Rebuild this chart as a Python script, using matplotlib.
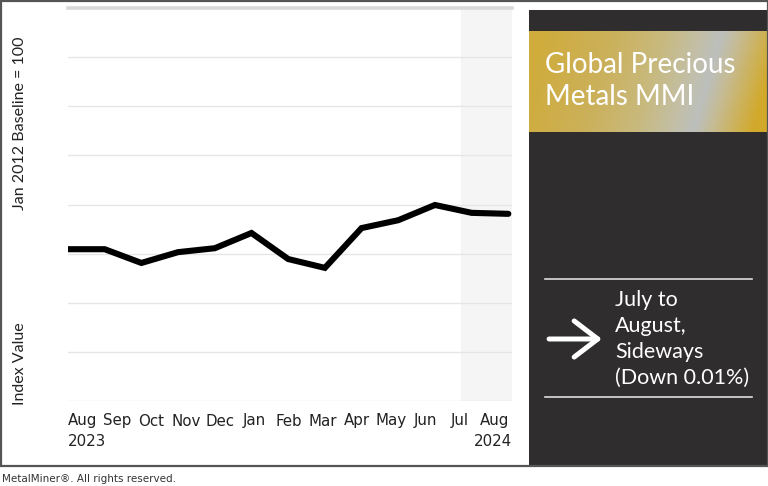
import numpy as np
import matplotlib.pyplot as plt
from matplotlib.patches import Rectangle
from matplotlib.colors import LinearSegmentedColormap
import matplotlib.transforms as mtransforms

# Data (index values, gridlines every 100)
months = ['Aug', 'Sep', 'Oct', 'Nov', 'Dec', 'Jan', 'Feb', 'Mar', 'Apr', 'May', 'Jun', 'Jul', 'Aug']
index_values = [309, 309, 281, 303, 311, 342, 289, 271, 352, 368, 399, 383, 381]
start_year = '2023'
end_year = '2024'
grid_values = [0, 100, 200, 300, 400, 500, 600, 700]
title_text = 'Global Precious\nMetals MMI'
change_text = 'July to\nAugust,\nSideways\n(Down 0.01%)'

plt.rcParams['font.family'] = ['DejaVu Sans']

fig = plt.figure(figsize=(7.68, 4.86), dpi=100)
W, H = 768, 486

def fx(px):
    return px / W

def fy(py):
    return 1 - py / H

# outer frame of the chart
fig.patches.append(Rectangle((fx(1), fy(466)), fx(767), fy(1) - fy(466),
                             transform=fig.transFigure, fill=False,
                             edgecolor='#555555', lw=1.6, zorder=0))

# main line chart
ax = fig.add_axes([fx(68), fy(401), fx(512) - fx(68), fy(8) - fy(401)])
x = np.arange(len(months))
ax.set_xlim(0, 12.1)
ax.set_ylim(0, 800)
ax.axvspan(10.72, 12.1, color='#f5f5f5', zorder=0)
for g in grid_values:
    ax.axhline(g, color='#e6e6e6', lw=1.0, zorder=1)
ax.axhline(800, color='#d9d9d9', lw=2.6, zorder=1, clip_on=False)
ax.plot(x, index_values, color='black', lw=4.4, solid_capstyle='round',
        solid_joinstyle='miter', zorder=3)

for s in ax.spines.values():
    s.set_visible(False)
ax.set_yticks([])
ax.set_xticks(np.linspace(0.41, 11.62, len(months)))
ax.set_xticklabels(months, fontsize=10.8, color='#222222')
ax.tick_params(axis='x', length=0, pad=9)

# year labels under first and last months
trans = mtransforms.blended_transform_factory(ax.transAxes, fig.transFigure)
ax.text(0, fy(441), start_year, transform=trans, ha='left', va='center',
        fontsize=10.8, color='#222222')
ax.text(1, fy(441), end_year, transform=trans, ha='right', va='center',
        fontsize=10.8, color='#222222')

# y-axis captions
fig.text(fx(20), fy(405), 'Index Value', rotation=90, ha='center', va='bottom',
         fontsize=11.5, color='#222222', family=['Lato', 'DejaVu Sans'])
fig.text(fx(20), fy(210), 'Jan 2012 Baseline = 100', rotation=90, ha='center',
         va='bottom', fontsize=11.5, color='#222222', family=['Lato', 'DejaVu Sans'])

# footer
fig.text(fx(2), fy(479), 'MetalMiner\u00ae. All rights reserved.', ha='left',
         va='center', fontsize=7.5, color='#333333')

# right dark panel
pan = fig.add_axes([fx(529), fy(466), fx(768) - fx(529), fy(10) - fy(466)])
pan.set_xlim(0, 1)
pan.set_ylim(0, 1)
pan.axis('off')
pan.add_patch(Rectangle((0, 0), 1, 1, color='#2f2d2e', zorder=0))

# gold / silver diagonal gradient band with the title
gold = LinearSegmentedColormap.from_list('gold', [
    (0.0, '#d0ac3c'), (0.3, '#cbb15c'), (0.5, '#c8b97c'), (0.66, '#c3bfa6'),
    (0.75, '#bcbfbd'), (0.83, '#c6bb92'), (0.92, '#cdb25a'), (1.0, '#d2a92a')])
band_top = (466 - 32) / 456
band_bot = (466 - 132) / 456
gx, gy = np.meshgrid(np.linspace(0, 1, 300), np.linspace(1, 0, 60))
grad = np.clip(gx - 0.12 * gy + 0.06, 0, 1)
pan.imshow(grad, cmap=gold, vmin=0, vmax=1, extent=(0, 1, band_bot, band_top),
           aspect='auto', zorder=1)
pan.text(0.065, (band_top + band_bot) / 2 + 0.002, title_text, ha='left', va='center',
         fontsize=20, color='white', family=['Lato', 'DejaVu Sans'],
         linespacing=1.3, zorder=2)

# horizontal rules and the change note
for py in (279, 397):
    yy = (466 - py) / 456
    pan.plot([0.065, 0.935], [yy, yy], color='#dddddd', lw=1.2, zorder=2)
arrow_y = (466 - 339) / 456
pan.annotate('', xy=(0.305, arrow_y), xytext=(0.084, arrow_y),
             arrowprops=dict(arrowstyle='->,head_length=0.85,head_width=0.65',
                             color='white', lw=3.6, mutation_scale=20,
                             shrinkA=0, shrinkB=0), zorder=2)
pan.text(0.36, arrow_y, change_text, ha='left', va='center', fontsize=15.5,
         color='white', family=['Lato', 'DejaVu Sans'], linespacing=1.38, zorder=2)

fig.savefig('out.png', dpi=100)
